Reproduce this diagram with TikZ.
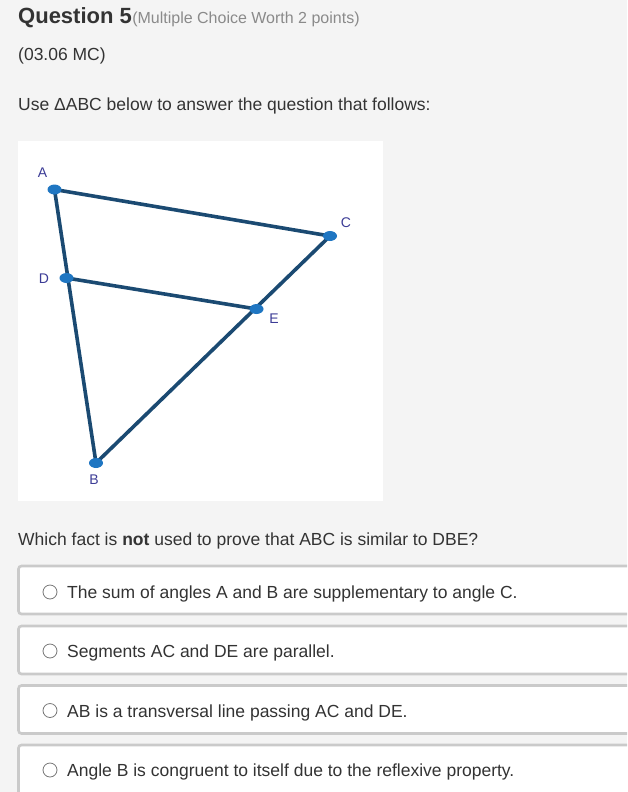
\documentclass[tikz,border=0pt]{standalone}
\usepackage{fontspec}
\setmainfont{Liberation Sans}
\usetikzlibrary{shapes.geometric,backgrounds}
\definecolor{pagebg}{HTML}{F4F4F4}
\definecolor{bodytext}{HTML}{333333}
\definecolor{graytext}{HTML}{8A8A8A}
\definecolor{boxline}{HTML}{CACACA}
\definecolor{segcol}{HTML}{1B4A72}
\definecolor{dotcol}{HTML}{1F76C2}
\definecolor{lblcol}{HTML}{3C3C96}
\definecolor{radiocol}{HTML}{777777}
\tikzset{
  body/.style={anchor=base west, inner sep=0pt, text=bodytext, font=\fontsize{17.5}{21}\selectfont},
  optbox/.style={draw=boxline, line width=2.6pt, rounded corners=3pt, fill=white},
  radio/.style={circle, draw=radiocol, line width=0.8pt, fill=white, minimum size=14pt, inner sep=0pt},
  seg/.style={draw=segcol, line width=3.6pt},
  dotnode/.style={ellipse, fill=dotcol, minimum width=14pt, minimum height=10pt, inner sep=0pt},
  lbl/.style={inner sep=0pt, text=lblcol, font=\fontsize{14}{16}\selectfont}
}
\begin{document}
\begin{tikzpicture}[x=1pt,y=-1pt]
\useasboundingbox (0,0) rectangle (627,792);
\clip (0,0) rectangle (627,792);
% header texts
\node[body, font=\bfseries\fontsize{22}{26}\selectfont] (q5) at (18,23.3) {Question 5};
\node[anchor=base west, inner sep=0pt, text=graytext, font=\fontsize{16}{19}\selectfont] (mc) at (q5.base east) {(Multiple Choice Worth 2 points)};
\node[body] (code) at (18,60.5) {(03.06 MC)};
\node[body] (use) at (18,110) {Use \char"0394 ABC below to answer the question that follows:};
% diagram points
\node[dotnode] (A) at (54.5,189.5) {};
\node[dotnode] (C) at (330,236) {};
\node[dotnode] (D) at (66.5,278) {};
\node[dotnode] (E) at (256.5,309) {};
\node[dotnode] (B) at (96,463) {};
\node[lbl] (lA) at (42.5,173) {A};
\node[lbl] (lC) at (346,223) {C};
\node[lbl] (lD) at (44,278.5) {D};
\node[lbl] (lE) at (274,319) {E};
\node[lbl] (lB) at (94,480) {B};
\begin{scope}[on background layer]
  \fill[pagebg] (0,0) rectangle (627,792);
  \fill[white] (18,141) rectangle (383,501);
  \draw[seg] (A.center) -- (C.center);
  \draw[seg] (A.center) -- (B.center);
  \draw[seg] (B.center) -- (C.center);
  \draw[seg] (D.center) -- (E.center);
\end{scope}
% question
\node[body] (ask) at (18,545.5) {Which fact is \textbf{not} used to prove that ABC is similar to DBE?};
% options
\draw[optbox] (18.5,566) rectangle (660,614);
\draw[optbox] (18.5,626) rectangle (660,674);
\draw[optbox] (18.5,685.5) rectangle (660,733.5);
\draw[optbox] (18.5,745) rectangle (660,830);
\node[radio] (r1) at (50,592) {};
\node[radio] (r2) at (50,651) {};
\node[radio] (r3) at (50,710.5) {};
\node[radio] (r4) at (50,770) {};
\node[body] (o1) at (67,598) {The sum of angles A and B are supplementary to angle C.};
\node[body] (o2) at (67,657.5) {Segments AC and DE are parallel.};
\node[body] (o3) at (67,717) {AB is a transversal line passing AC and DE.};
\node[body] (o4) at (67,776.5) {Angle B is congruent to itself due to the reflexive property.};
\end{tikzpicture}
\end{document}
